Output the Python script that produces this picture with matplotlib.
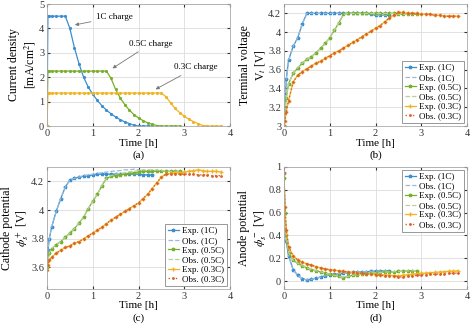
import numpy as np
import matplotlib
matplotlib.use('Agg')
import matplotlib.pyplot as plt
from matplotlib.ticker import FormatStrFormatter

plt.rcParams['font.family'] = ['Liberation Serif', 'DejaVu Serif']
plt.rcParams['mathtext.fontset'] = 'stix'

# sampling times (h) for each C-rate
head = [0, 0.02, 0.05]
t_1c = head + [round(0.1 * i, 2) for i in range(1, 24)]    # to 2.3 h
t_05c = head + [round(0.1 * i, 2) for i in range(1, 30)]   # to 2.9 h
t_03c = head + [round(0.1 * i, 2) for i in range(1, 39)]   # to 3.8 h

# (a) current density [mA/cm2]
cur_1c = [0, 4.5, 4.5, 4.5, 4.5, 4.5, 4.5, 4.0, 3.2, 2.55, 2.0, 1.6, 1.3, 1.05,
          0.83, 0.65, 0.5, 0.37, 0.26, 0.17, 0.1, 0.03, 0, 0, 0, 0]
cur_05c = [0, 2.25, 2.25] + [2.25] * 13 + [1.95, 1.5, 1.15, 0.88, 0.65, 0.47, 0.33,
           0.22, 0.13, 0.07, 0.02, 0, 0, 0, 0, 0]
cur_03c = [0, 1.35, 1.35] + [1.35] * 25 + [1.2, 0.95, 0.72, 0.55, 0.4, 0.28, 0.18,
           0.1, 0.02, 0, 0, 0, 0]

# (b) terminal voltage [V]
vt_1c = [3.0, 3.2, 3.5, 3.7, 3.85, 3.94, 4.09, 4.2, 4.2, 4.2, 4.2, 4.2, 4.2, 4.2,
         4.2, 4.2, 4.2, 4.2, 4.2, 4.2, 4.2, 4.19, 4.18, 4.18, 4.18, 4.18]
vt_05c = [3.0, 3.15, 3.3, 3.45, 3.56, 3.62, 3.67, 3.71, 3.74, 3.78, 3.83, 3.88,
          3.94, 4.02, 4.1, 4.19, 4.2, 4.2, 4.2, 4.2, 4.2, 4.2, 4.2, 4.2, 4.2,
          4.2, 4.2, 4.19, 4.19, 4.19, 4.19, 4.19]
vt_03c = [3.0, 3.05, 3.15, 3.27, 3.47, 3.54, 3.58, 3.61, 3.64, 3.67, 3.69, 3.72,
          3.75, 3.78, 3.80, 3.83, 3.86, 3.89, 3.92, 3.95, 3.98, 4.01, 4.04, 4.07,
          4.11, 4.15, 4.18, 4.21, 4.21, 4.2, 4.2, 4.2, 4.19, 4.19, 4.19, 4.18,
          4.18, 4.17, 4.17, 4.17, 4.17]

# (c) cathode potential [V]
cp_1c_exp = [3.65, 3.72, 3.8, 3.88, 3.99, 4.08, 4.16, 4.21, 4.22, 4.23, 4.235,
             4.24, 4.245, 4.25, 4.25, 4.25, 4.25, 4.25, 4.25, 4.25, 4.25, 4.25,
             4.25, 4.245, 4.245, 4.245]
cp_1c_obs = [3.65, 3.72, 3.8, 3.88, 3.99, 4.08, 4.16, 4.21, 4.22, 4.23, 4.24,
             4.245, 4.25, 4.255, 4.26, 4.265, 4.27, 4.272, 4.275, 4.28, 4.28,
             4.285, 4.28, 4.27, 4.265, 4.26]
cp_05c_exp = [3.6, 3.65, 3.7, 3.73, 3.76, 3.78, 3.81, 3.84, 3.87, 3.91, 3.95,
              4.01, 4.06, 4.11, 4.17, 4.22, 4.235, 4.24, 4.245, 4.25, 4.255, 4.26,
              4.265, 4.27, 4.27, 4.27, 4.27, 4.27, 4.27, 4.27, 4.27, 4.27]
cp_05c_obs = [3.6, 3.65, 3.7, 3.73, 3.76, 3.78, 3.81, 3.84, 3.87, 3.91, 3.95,
              4.01, 4.06, 4.11, 4.17, 4.22, 4.24, 4.25, 4.255, 4.26, 4.265, 4.27,
              4.275, 4.28, 4.28, 4.28, 4.28, 4.275, 4.27, 4.27, 4.27, 4.27]
cp_03c_exp = [3.58, 3.62, 3.65, 3.67, 3.7, 3.72, 3.74, 3.75, 3.77, 3.78, 3.8,
              3.82, 3.84, 3.86, 3.88, 3.905, 3.93, 3.95, 3.97, 3.99, 4.01, 4.03,
              4.05, 4.08, 4.11, 4.15, 4.19, 4.23, 4.25, 4.255, 4.26, 4.26, 4.265,
              4.27, 4.275, 4.28, 4.275, 4.27, 4.27, 4.27, 4.265]
cp_03c_obs = [3.58, 3.62, 3.65, 3.67, 3.7, 3.72, 3.74, 3.75, 3.77, 3.78, 3.8,
              3.82, 3.84, 3.86, 3.88, 3.905, 3.93, 3.95, 3.97, 3.99, 4.01, 4.03,
              4.05, 4.08, 4.11, 4.15, 4.19, 4.23, 4.25, 4.25, 4.25, 4.25, 4.25,
              4.25, 4.25, 4.245, 4.245, 4.245, 4.24, 4.24, 4.24]

# (d) anode potential [V]
ap_1c = [0.95, 0.6, 0.35, 0.22, 0.1, 0.05, 0.02, 0.01, 0.015, 0.025, 0.035,
         0.045, 0.055, 0.06, 0.065, 0.068, 0.07, 0.075, 0.078, 0.08, 0.082,
         0.085, 0.087, 0.088, 0.09, 0.09]
ap_05c = [0.9, 0.6, 0.4, 0.25, 0.18, 0.155, 0.135, 0.115, 0.1, 0.09, 0.08,
          0.07, 0.06, 0.05, 0.04, 0.03, 0.04, 0.05, 0.055, 0.06, 0.065, 0.07,
          0.072, 0.075, 0.078, 0.08, 0.082, 0.084, 0.086, 0.088, 0.09, 0.09]
ap_03c_exp = [0.95, 0.65, 0.45, 0.3, 0.22, 0.185, 0.165, 0.15, 0.14, 0.125,
              0.115, 0.105, 0.1, 0.095, 0.09, 0.085, 0.08, 0.075, 0.07, 0.067,
              0.063, 0.06, 0.057, 0.055, 0.053, 0.05, 0.048, 0.047, 0.05, 0.055,
              0.06, 0.065, 0.068, 0.07, 0.073, 0.076, 0.079, 0.082, 0.085, 0.087,
              0.09]
ap_03c_obs = [0.95, 0.65, 0.45, 0.3, 0.22, 0.185, 0.165, 0.15, 0.14, 0.125,
              0.115, 0.105, 0.1, 0.095, 0.09, 0.085, 0.08, 0.075, 0.07, 0.067,
              0.063, 0.06, 0.057, 0.05, 0.047, 0.043, 0.04, 0.037, 0.035, 0.04,
              0.045, 0.05, 0.053, 0.056, 0.058, 0.06, 0.062, 0.064, 0.066, 0.068,
              0.07]

c_blue = '#3a8fd0'
c_blue_l = '#9bbad6'
c_green = '#77b02a'
c_green_l = '#b8cfa0'
c_yellow = '#f0b423'
c_orange = '#d9622b'

fig = plt.figure(figsize=(4.74, 3.26), dpi=100)
W, H = 474, 326


def make_ax(l, t, r, b, ylabel, caption, lab_off):
    ax = fig.add_axes([l / W, 1 - b / H, (r - l) / W, (b - t) / H])
    ax.set_xlim(0, 4)
    ax.set_xticks([0, 1, 2, 3, 4])
    ax.grid(True, color='#dddddd', linewidth=0.6)
    ax.set_axisbelow(True)
    ax.tick_params(direction='in', length=2.5, labelsize=7.5, colors='#333333',
                   top=True, right=True, pad=2)
    for s in ax.spines.values():
        s.set_color('#aaaaaa')
        s.set_linewidth(0.6)
    ax.yaxis.set_major_formatter(FormatStrFormatter('%g'))
    cx = (l + r) / 2 / W
    fig.text(cx, 1 - (b + 17) / H, 'Time [h]', ha='center', va='center',
             fontsize=8)
    fig.text(cx, 1 - (b + 29) / H, caption, ha='center', va='center',
             fontsize=8)
    fig.text((l - lab_off) / W, 1 - (t + b) / 2 / H, ylabel, ha='center',
             va='center', rotation=90, fontsize=8.5, linespacing=1.15)
    return ax


def six_lines(ax, s1e, s1o, s2e, s2o, s3e, s3o):
    ax.plot(t_1c, s1e, '-', color=c_blue, lw=0.9, marker='*', ms=2.5,
            label='Exp. (1C)')
    ax.plot(t_1c, s1o, '--', color=c_blue_l, lw=0.9, label='Obs. (1C)')
    ax.plot(t_05c, s2e, '-', color=c_green, lw=0.9, marker='*', ms=2.5,
            label='Exp. (0.5C)')
    ax.plot(t_05c, s2o, '--', color=c_green_l, lw=0.9, label='Obs. (0.5C)')
    ax.plot(t_03c, s3e, '-', color=c_yellow, lw=0.9, marker='+', ms=2.5,
            label='Exp. (0.3C)')
    ax.plot(t_03c, s3o, ':', color=c_orange, lw=1.0, marker='.', ms=2,
            label='Obs. (0.3C)')


def legend(ax, loc):
    lg = ax.legend(loc=loc, fontsize=6.5, handlelength=1.2, labelspacing=0.15,
                   borderpad=0.3, handletextpad=0.4, borderaxespad=0.3,
                   fancybox=False, framealpha=1, edgecolor='#888888')
    lg.get_frame().set_linewidth(0.6)


# (a)
ax = make_ax(47, 4, 230, 126, 'Current density\n[mA/cm$^2$]', '(a)', 24)
ax.plot(t_1c, cur_1c, '-', color=c_blue, lw=0.9, marker='.', ms=2.5)
ax.plot(t_05c, cur_05c, '-', color=c_green, lw=0.9, marker='.', ms=2.5)
ax.plot(t_03c, cur_03c, '-', color=c_yellow, lw=0.9, marker='.', ms=2.5)
ax.set_ylim(0, 5)
ax.set_yticks([0, 1, 2, 3, 4, 5])
arrow = dict(arrowstyle='-|>', color='#777777', lw=0.6, mutation_scale=5)
ax.annotate('1C charge', xy=(0.55, 4.12), xytext=(1.08, 4.47), fontsize=6.5,
            va='center', arrowprops=arrow)
ax.annotate('0.5C charge', xy=(1.38, 2.3), xytext=(1.8, 3.38), fontsize=6.5,
            va='center', arrowprops=arrow)
ax.annotate('0.3C charge', xy=(2.32, 1.45), xytext=(2.78, 2.4), fontsize=6.5,
            va='center', arrowprops=arrow)

# (b)
ax = make_ax(284, 4, 467, 126, 'Terminal voltage\nV$_t$ [V]', '(b)', 31)
six_lines(ax, vt_1c, vt_1c, vt_05c, vt_05c, vt_03c, vt_03c)
ax.set_ylim(3, 4.3)
ax.set_yticks([3, 3.2, 3.4, 3.6, 3.8, 4, 4.2])
legend(ax, 'lower right')

# (c)
ax = make_ax(47, 167, 230, 289, 'Cathode potential\n$\\phi_s^+$ [V]', '(c)', 31)
six_lines(ax, cp_1c_exp, cp_1c_obs, cp_05c_exp, cp_05c_obs, cp_03c_exp,
          cp_03c_obs)
ax.set_ylim(3.45, 4.3)
ax.set_yticks([3.6, 3.8, 4, 4.2])
legend(ax, 'lower right')

# (d)
ax = make_ax(284, 167, 467, 289, 'Anode potential\n$\\phi_s^-$ [V]', '(d)', 31)
six_lines(ax, ap_1c, ap_1c, ap_05c, ap_05c, ap_03c_exp, ap_03c_obs)
ax.set_ylim(-0.07, 1)
ax.set_yticks([0, 0.2, 0.4, 0.6, 0.8, 1])
legend(ax, 'upper right')

fig.savefig('out.png', dpi=100)
